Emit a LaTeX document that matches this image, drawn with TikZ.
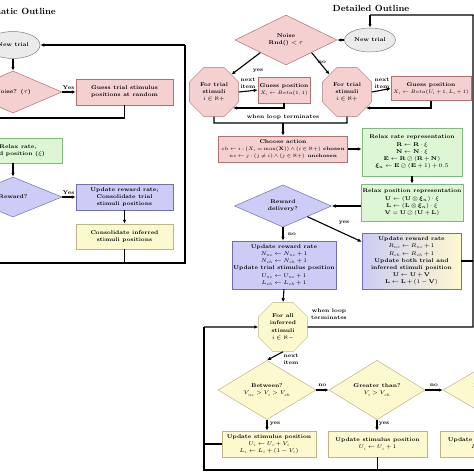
\RequirePackage{fix-cm}
\documentclass[tikz,border=0pt]{standalone}
\usepackage{amsmath,bm}
\usetikzlibrary{shapes.geometric,arrows.meta,calc}
\definecolor{pinkF}{HTML}{F4D0D0}
\definecolor{pinkD}{HTML}{B07070}
\definecolor{greenF}{HTML}{DDF7D4}
\definecolor{greenD}{HTML}{80B880}
\definecolor{blueF}{HTML}{CCCCF6}
\definecolor{blueD}{HTML}{7070B0}
\definecolor{yellowF}{HTML}{FDF9CF}
\definecolor{yellowD}{HTML}{C0B480}
\definecolor{grayF}{HTML}{EBEBEB}
\definecolor{grayD}{HTML}{808080}
\newcommand{\smallmath}{\thinmuskip=2mu\medmuskip=2.5mu plus 1mu\thickmuskip=3.5mu plus 1mu}
\newcommand{\fmline}{\fontsize{4.9}{7.2}\selectfont}
\tikzset{
  base/.style={font=\fontsize{5.5}{7.2}\selectfont\bfseries\smallmath, align=center, inner sep=0pt, draw, line width=0.5pt, text=black},
  rbox/.style={base, rectangle},
  dia/.style={base, diamond},
  oct/.style={base, regular polygon, regular polygon sides=8, minimum size=53pt},
  ell/.style={base, ellipse, fill=grayF, draw=grayD},
  pinkst/.style={fill=pinkF, draw=pinkD},
  greenst/.style={fill=greenF, draw=greenD},
  bluest/.style={fill=blueF, draw=blueD},
  yellowst/.style={fill=yellowF, draw=yellowD},
  flow/.style={line width=1.1pt, -{Latex[length=4pt,width=3.5pt]}},
  wire/.style={line width=1.1pt},
  lbl/.style={font=\fontsize{5.5}{6.6}\selectfont\bfseries, align=center, inner sep=0.5pt},
  ttl/.style={font=\fontsize{8.9}{11}\selectfont\bfseries, inner sep=0pt},
}
\begin{document}
\begin{tikzpicture}[x=1pt,y=-1pt]
\useasboundingbox (0,0) rectangle (474,474);
\fill[white] (0,0) rectangle (474,474);
% ---------------- left panel ----------------
\node[ttl, anchor=east] (t1) at (56,11) {Schematic Outline};
\node[ell, minimum width=54pt, minimum height=27pt] (nt1) at (13,45) {New trial};
\node[dia, pinkst, minimum width=98pt, minimum height=42pt] (no1) at (13,92) {Noise? ($\tau$)};
\node[rbox, pinkst, minimum width=97pt, minimum height=26pt] (g1) at (124.5,92) {Guess trial stimulus\\positions at random};
\node[rbox, greenst, minimum width=88pt, minimum height=25pt] (rx1) at (18,150.5) {Relax rate,\\and position ($\xi$)};
\node[dia, bluest, minimum width=98pt, minimum height=40pt] (rw1) at (13,197) {Reward?};
\node[rbox, bluest, minimum width=97pt, minimum height=26pt] (u1) at (124.5,197) {Update reward rate;\\Consolidate trial\\stimuli positions};
\node[rbox, yellowst, minimum width=97pt, minimum height=25pt] (c1) at (124.5,236.5) {Consolidate inferred\\stimuli positions};
\coordinate (la) at (-12,118);
\coordinate (lb) at (-12,263);
\coordinate (lc) at (185,263);
\coordinate (ld) at (185,45);
\draw[flow] (nt1) -- (no1);
\draw[flow] (no1.east) -- (g1.west);
\node[lbl] (y1) at (68.5,87.5) {Yes};
\draw[wire] (g1.south) |- (la);
\draw[flow] (rw1.north |- rx1.south) -- (rw1.north);
\draw[flow] (rw1.east) -- (u1.west);
\node[lbl] (y2) at (68.5,192.5) {Yes};
\draw[flow] (u1) -- (c1);
\draw[wire] (c1.south) -- (c1.south |- lb);
\draw[wire] (lb) -- (lc) -- (ld);
\draw[flow] (ld) -- (nt1.east);
% ---------------- right panel ----------------
\node[ttl] (t2) at (371,8) {Detailed Outline};
\node[ell, minimum width=51pt, minimum height=24pt] (nt2) at (370,40) {New trial};
\node[dia, pinkst, minimum width=102pt, minimum height=50pt] (no2) at (286,40) {Noise\\Rnd() $<\tau$};
\node[oct, pinkst] (o1) at (214,92) {For trial\\stimuli\\$i\in\aleph{+}$};
\node[oct, pinkst] (o2) at (347,92) {For trial\\stimuli\\$i\in\aleph{+}$};
\node[rbox, pinkst, minimum width=52pt, minimum height=26pt] (g2a) at (284,90) {Guess position\\{\fmline$X_i\leftarrow Beta(1,1)$}};
\node[rbox, pinkst, minimum width=80pt, minimum height=24pt] (g2b) at (431,88.5) {Guess position\\{\fmline$X_i\leftarrow Beta(U_i+1,L_i+1)$}};
\draw[flow] (nt2.west) -- (no2.east);
\draw[flow] (no2.south west) -- (o1.north east);
\node[lbl] (ly1) at (258,70.5) {yes};
\draw[flow] (no2.south east) -- (o2.north west);
\node[lbl] (ln1) at (322,62) {no};
\draw[flow] (o1.east) -- (g2a.west);
\node[lbl] (ni1) at (248,83) {next\\item};
\draw[flow] (o2.east) -- (g2b.west);
\node[lbl] (ni2) at (382,83) {next\\item};
\draw[flow] (g2a.south) |- (o1.-40);
\draw[flow] (g2b.south) |- (o2.-40);
\coordinate (wl) at (214,123);
\coordinate (wr) at (347,123);
\coordinate (wm) at (283,123);
\draw[wire] (o1.south) -- (wl) -- (wr) -- (o2.south);
\node[lbl] (wlt) at (283,117) {when loop terminates};
\node[rbox, pinkst, minimum width=129pt, minimum height=26pt] (ch) at (283,149) {Choose action\\{\fmline$ch\leftarrow i:(X_i=\max(\mathbf{X}))\wedge(i\in\aleph{+})$ chosen}\\{\fmline$nc\leftarrow j:(j\neq i)\wedge(j\in\aleph{+})$ unchosen}};
\draw[flow] (wm) -- (ch.north);
\node[rbox, greenst, minimum width=100pt, minimum height=48pt] (rr) at (412,152) {Relax rate representation\\$\mathbf{R}\leftarrow\mathbf{R}\cdot\xi$\\$\mathbf{N}\leftarrow\mathbf{N}\cdot\xi$\\$\mathbf{E}\leftarrow\mathbf{R}\oslash(\mathbf{R}+\mathbf{N})$\\$\bm{\xi_{n}}\leftarrow\mathbf{E}\oslash(\mathbf{E}+1)+0.5$};
\node[rbox, greenst, minimum width=102pt, minimum height=37pt] (rp) at (412,202.5) {Relax position representation\\$\mathbf{U}\leftarrow(\mathbf{U}\otimes\bm{\xi_{n}})\cdot\xi$\\$\mathbf{L}\leftarrow(\mathbf{L}\otimes\bm{\xi_{n}})\cdot\xi$\\$\mathbf{V}=\mathbf{U}\oslash(\mathbf{U}+\mathbf{L})$};
\draw[flow] (ch.east) -- (rr.west |- ch.east);
\draw[flow] (rr.south) -- (rp.north);
\node[dia, bluest, minimum width=97pt, minimum height=41pt] (rw2) at (283,206) {Reward\\delivery?};
\draw[flow] (rp.west |- rw2.east) -- (rw2.east);
\node[rbox, bluest, minimum width=104pt, minimum height=48pt] (ul) at (284,265) {Update reward rate\\$N_{nc}\leftarrow N_{nc}+1$\\$N_{ch}\leftarrow N_{ch}+1$\\Update trial stimulus position\\$U_{nc}\leftarrow U_{nc}+1$\\$L_{ch}\leftarrow L_{ch}+1$};
\node[rbox, draw=blueD, left color=blueF, right color=yellowF, minimum width=99pt, minimum height=56pt] (ur) at (411.5,261) {Update reward rate\\$R_{nc}\leftarrow R_{nc}+1$\\$R_{ch}\leftarrow R_{ch}+1$\\Update both trial and\\inferred stimuli position\\$\mathbf{U}\leftarrow\mathbf{U}+\mathbf{V}$\\$\mathbf{L}\leftarrow\mathbf{L}+(1-\mathbf{V})$};
\draw[flow] (rw2.south) -- (rw2.south |- ul.north);
\node[lbl] (ln2) at (292,234) {no};
\draw[flow] (rw2.south east) -- ([yshift=-9pt]ur.north west);
\node[lbl] (ly2) at (344,223) {yes};
\node[oct, yellowst] (o3) at (283,327) {For all\\inferred\\stimuli\\$i\in\aleph{-}$};
\draw[flow] (ul.south) -- (o3.north);
\coordinate (ra) at (473,327);
\coordinate (rb) at (473,15);
\coordinate (rc) at (370,15);
\draw[wire] (o3.east) -- (ra) -- (rb) -- (rc);
\draw[flow] (rc) -- (nt2.north);
\draw[wire] (ur.east) -- (ur.east -| ra);
\node[lbl] (wlt2) at (329,314) {when loop\\terminates};
\node[dia, yellowst, minimum width=98pt, minimum height=55pt] (bt) at (267,390) {Between?\\$V_{nc}>V_i>V_{ch}$};
\node[dia, yellowst, minimum width=96pt, minimum height=56pt] (gt) at (377,390) {Greater than?\\$V_i>V_{ch}$};
\node[dia, yellowst, minimum width=96pt, minimum height=56pt] (lt) at (491,390) {Less than?\\$V_i<V_{nc}$};
\draw[flow] (o3.south) -- (bt.north);
\node[lbl] (ni3) at (291,359.5) {next\\item};
\draw[flow] (bt.east) -- (gt.west);
\node[lbl] (ln3) at (322.5,385) {no};
\draw[flow] (gt.east) -- (lt.west);
\node[lbl] (ln4) at (434,385) {no};
\node[rbox, yellowst, minimum width=94pt, minimum height=26pt] (ub1) at (269,444) {Update stimulus position\\$U_i\leftarrow U_i+V_i$\\$L_i\leftarrow L_i+(1-V_i)$};
\node[rbox, yellowst, minimum width=99pt, minimum height=26pt] (ub2) at (377.5,444) {Update stimulus position\\$U_i\leftarrow U_i+1$};
\node[rbox, yellowst, minimum width=100pt, minimum height=26pt] (ub3) at (490,444) {Update stimulus position\\$L_i\leftarrow L_i+1$};
\draw[flow] (bt.south) -- (bt.south |- ub1.north);
\node[lbl] (ly3) at (275,423.5) {yes};
\draw[flow] (gt.south) -- (gt.south |- ub2.north);
\node[lbl] (ly4) at (384,423.5) {yes};
\coordinate (ba) at (204,470);
\coordinate (bb) at (520,470);
\coordinate (bc) at (204,327);
\draw[wire] (bb) -- (ba) -- (bc);
\draw[flow] (bc) -- (o3.west);
\draw[wire] (ub1.west) -- (ub1.west -| ba);
\draw[wire] (ub2.south) -- (ub2.south |- ba);
\draw[wire] (ub3.south) -- (ub3.south |- ba);
\end{tikzpicture}
\end{document}
